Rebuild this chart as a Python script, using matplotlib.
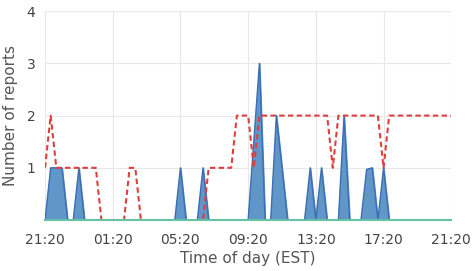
import numpy as np
import matplotlib
matplotlib.use('Agg')
import matplotlib.pyplot as plt

# samples every 20 minutes, starting at 21:20
reports = [0, 1, 1, 1, 0, 0, 1, 0, 0, 0, 0, 0, 0, 0, 0, 0, 0, 0, 0, 0,
           0, 0, 0, 0, 1, 0, 0, 0, 1, 0, 0, 0, 0, 0, 0, 0, 0, 1.5, 3, 0,
           0, 2, 1, 0, 0, 0, 0, 1, 0, 1, 0, 0, 0, 2, 0, 0, 0, 0.97, 1.0, 0,
           1, 0, 0, 0, 0, 0, 0, 0, 0, 0, 0, 0, 0]
typical = [1, 2, 1, 1, 1, 1, 1, 1, 1, 1, 0, 0, 0, 0, 0, 1, 1, 0, 0, 0,
           0, 0, 0, 0, 0, 0, 0, 0, 0, 1, 1, 1, 1, 1, 2, 2, 2, 1, 2, 2,
           2, 2, 2, 2, 2, 2, 2, 2, 2, 2, 2, 1, 2, 2, 2, 2, 2, 2, 2, 2,
           1, 2, 2, 2, 2, 2, 2, 2, 2, 2, 2, 2, 2]
baseline = [0] * 73
tick_labels = ['21:20', '01:20', '05:20', '09:20', '13:20', '17:20', '21:20']

hours = np.arange(len(reports)) / 3.0

fig = plt.figure(figsize=(4.74, 2.71), dpi=100)
ax = fig.add_axes([0.095, 0.188, 0.857, 0.771])

ax.fill_between(hours, reports, color='#6096c8', zorder=2)
ax.plot(hours, reports, color='#3c6eb4', lw=1, zorder=3)
ax.plot(hours, typical, color='#de3f3f', lw=1.5, dashes=(2.6, 1.6), zorder=4)
ax.plot(hours, baseline, color='#66c2a5', lw=1.5, zorder=5, clip_on=False)

ax.set_xlim(0, 24)
ax.set_ylim(0, 4)
ax.set_xticks(np.arange(0, 25, 4))
ax.set_xticklabels(tick_labels)
ax.set_yticks([1, 2, 3, 4])

ax.grid(True, color='#e8e8e8', lw=0.8, zorder=0)
for s in ax.spines.values():
    s.set_visible(False)
ax.tick_params(length=0, labelsize=10, colors='#444444')
ax.tick_params(axis='x', pad=9)
ax.tick_params(axis='y', pad=7)

ax.set_xlabel('Time of day (EST)', fontsize=11, color='#555555', labelpad=3)
ax.set_ylabel('Number of reports', fontsize=11, color='#555555', labelpad=6)

fig.savefig('out.png', dpi=100)
